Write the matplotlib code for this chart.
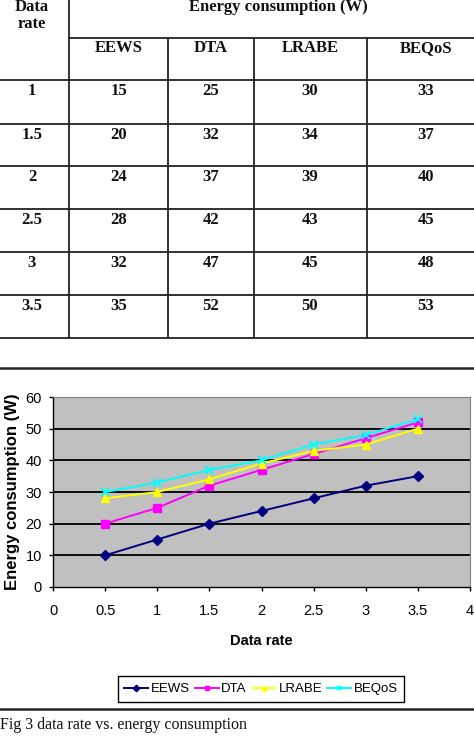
import numpy as np
import matplotlib
matplotlib.use('Agg')
import matplotlib.pyplot as plt

# data
rates = [0.5, 1, 1.5, 2, 2.5, 3, 3.5]
eews = [10, 15, 20, 24, 28, 32, 35]
dta = [20, 25, 32, 37, 42, 47, 52]
lrabe = [28, 30, 34, 39, 43, 45, 50]
beqos = [30, 33, 37, 40, 45, 48, 53]

table_rates = ['1', '1.5', '2', '2.5', '3', '3.5']
table_cols = ['EEWS', 'DTA', 'LRABE', 'BEQoS']
table_vals = [[15, 25, 30, 33],
              [20, 32, 34, 37],
              [24, 37, 39, 40],
              [28, 42, 43, 45],
              [32, 47, 45, 48],
              [35, 52, 50, 53]]

W, H = 474, 737
fig = plt.figure(figsize=(W / 100, H / 100), dpi=100)

# table drawn on an overlay in pixel coordinates
ov = fig.add_axes([0, 0, 1, 1])
ov.set_xlim(0, W)
ov.set_ylim(H, 0)
ov.axis('off')

row_lines = [80, 124, 166, 209, 252, 295, 338]
col_lines = [69, 168, 254, 367]
col_centers = [32, 119, 211, 310, 426]
lc = '#222222'
tfont = dict(family='Liberation Serif', fontweight='bold', fontsize=12,
             color='#111111', ha='center', va='center')

for y in row_lines:
    ov.plot([0, W], [y, y], color=lc, lw=1.3)
ov.plot([69, W], [38, 38], color=lc, lw=1.3)
ov.plot([69, 69], [0, 338], color=lc, lw=1.3)
for x in col_lines[1:]:
    ov.plot([x, x], [38, 338], color=lc, lw=1.3)

ov.text(col_centers[0], 7, 'Data', **tfont)
ov.text(col_centers[0], 24, 'rate', **tfont)
ov.text(278, 7, 'Energy consumption (W)', **tfont)
for j, name in enumerate(table_cols):
    ov.text(col_centers[j + 1], 48, name, **tfont)
for i, r in enumerate(table_rates):
    ty = row_lines[i] + 11
    ov.text(col_centers[0], ty, r, **tfont)
    for j, v in enumerate(table_vals[i]):
        ov.text(col_centers[j + 1], ty, str(v), **tfont)

ov.plot([0, W], [368, 368], color='#222222', lw=1.8)
ov.plot([0, W], [709, 709], color='#222222', lw=1.8)
ov.text(0, 725, 'Fig 3 data rate vs. energy consumption', family='Liberation Serif',
        fontsize=11.5, color='#111111', ha='left', va='center')

# chart
ax = fig.add_axes([53 / W, 1 - 587 / H, (470 - 53) / W, (587 - 397) / H])
ax.set_facecolor('#c0c0c0')
ax.set_xlim(0, 4)
ax.set_ylim(0, 60)
ax.set_xticks(np.arange(0, 4.01, 0.5))
ax.set_xticklabels(['0', '0.5', '1', '1.5', '2', '2.5', '3', '3.5', '4'])
ax.set_yticks(range(0, 61, 10))
for g in range(10, 60, 10):
    ax.axhline(g, color='black', lw=1.3, zorder=1)

ax.plot(rates, eews, color='#000080', marker='D', ms=5.5, lw=1.4, label='EEWS', zorder=3)
ax.plot(rates, dta, color='#ff00ff', marker='s', ms=5.5, lw=1.4, label='DTA', zorder=3)
ax.plot(rates, lrabe, color='#ffff00', marker='^', ms=6, lw=1.4, label='LRABE', zorder=3)
ax.plot(rates, beqos, color='#00ffff', marker='x', ms=6, mew=1.4, lw=1.4, label='BEQoS', zorder=4)

for s in ['top', 'right']:
    ax.spines[s].set_color('#808080')
for s in ['left', 'bottom']:
    ax.spines[s].set_color('black')
    ax.spines[s].set_linewidth(1.0)

ax.tick_params(axis='both', direction='out', length=3, width=1, colors='black',
               labelsize=10.5)
ax.tick_params(axis='x', pad=9)
ax.tick_params(axis='y', pad=5)
for lab in ax.get_xticklabels() + ax.get_yticklabels():
    lab.set_family('Liberation Sans')

ax.set_xlabel('Data rate', family='Liberation Sans', fontweight='bold', fontsize=10.5, labelpad=12)
ax.set_ylabel('Energy consumption (W)', family='Liberation Sans', fontweight='bold',
              fontsize=12, labelpad=4)

leg = fig.legend(loc='center', bbox_to_anchor=(261 / W, 1 - 689 / H), ncol=4,
                 frameon=True, fancybox=False, edgecolor='black', framealpha=1,
                 prop={'family': 'Liberation Sans', 'size': 9.5},
                 handlelength=1.8, handletextpad=0.2, columnspacing=0.4,
                 borderpad=0.5, borderaxespad=0, markerscale=0.6)
leg.get_frame().set_linewidth(1.0)

fig.savefig('out.png', dpi=100)
